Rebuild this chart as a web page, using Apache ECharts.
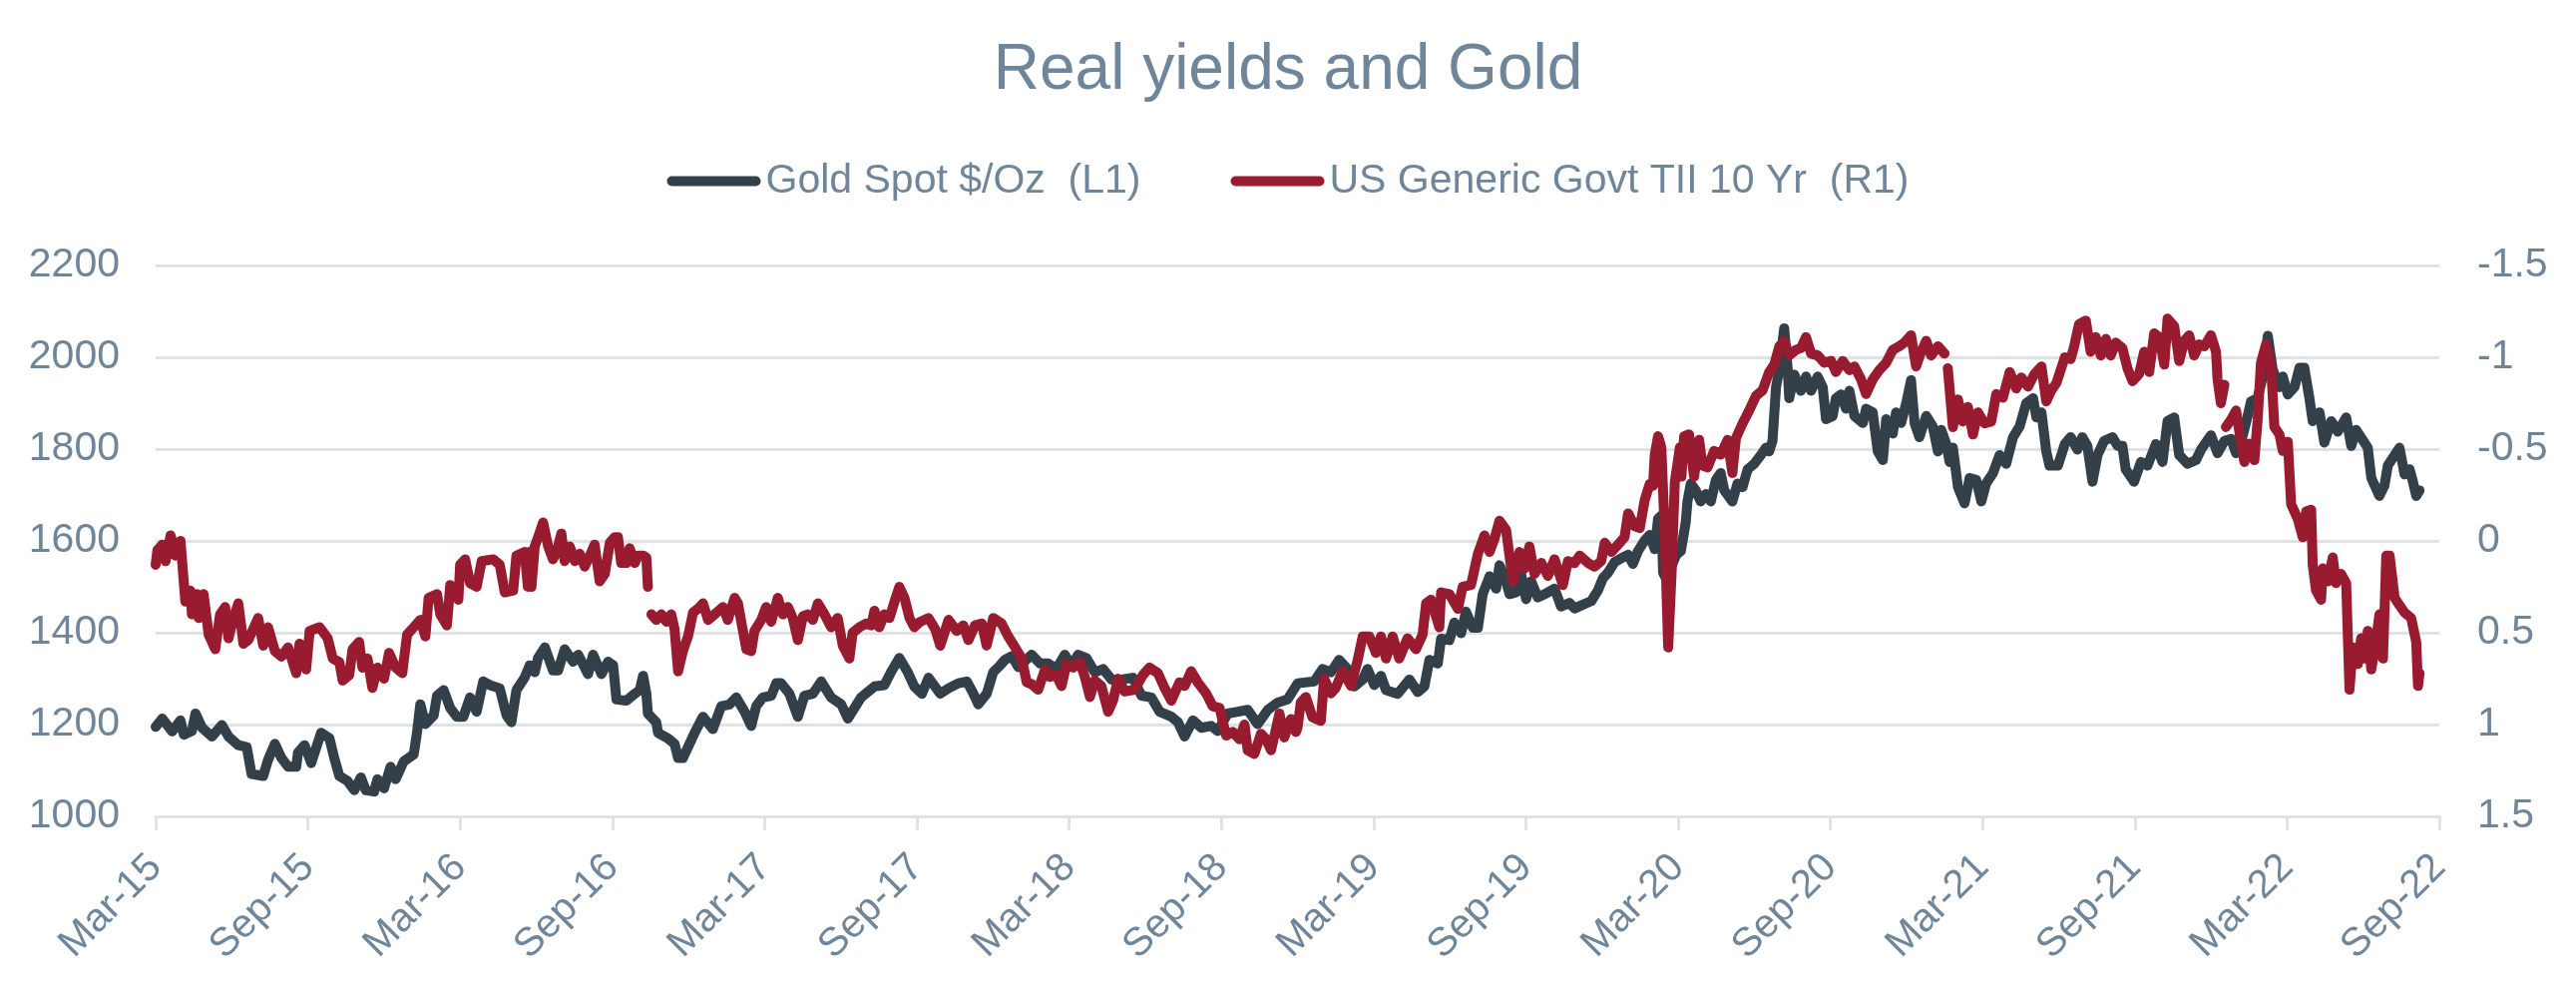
<!DOCTYPE html>
<html>
<head>
<meta charset="utf-8">
<title>Real yields and Gold</title>
<script src="https://cdn.jsdelivr.net/npm/echarts@6/dist/echarts.min.js"></script>
<style>
    html, body { margin: 0; padding: 0; background: #ffffff; }
    #chart { width: 2582px; height: 999px; }
</style>
</head>
<body>
<div id="chart"></div>
<script>
// x values are months counted from the Mar-15 tick
const tickLabels = ['Mar-15', 'Sep-15', 'Mar-16', 'Sep-16', 'Mar-17', 'Sep-17', 'Mar-18', 'Sep-18',
    'Mar-19', 'Sep-19', 'Mar-20', 'Sep-20', 'Mar-21', 'Sep-21', 'Mar-22', 'Sep-22'];

const seriesNames = ['Gold Spot $/Oz  (L1)', 'US Generic Govt TII 10 Yr  (R1)'];

// Gold spot, $/oz, left axis
const goldSpot = [
    [0.00, 1195], [0.26, 1213], [0.65, 1185], [0.98, 1209], [1.11, 1178], [1.43, 1186], [1.57, 1224],
    [1.83, 1193], [2.22, 1174], [2.61, 1199], [2.87, 1174], [3.26, 1155], [3.59, 1151], [3.78, 1092],
    [4.24, 1088], [4.43, 1123], [4.70, 1158], [4.96, 1127], [5.22, 1108], [5.54, 1108], [5.61, 1139],
    [5.87, 1155], [6.13, 1116], [6.52, 1182], [6.85, 1170], [7.04, 1127], [7.24, 1088], [7.56, 1077],
    [7.83, 1057], [8.09, 1085], [8.28, 1057], [8.61, 1054], [8.74, 1081], [9.00, 1061], [9.26, 1108],
    [9.46, 1081], [9.78, 1120], [10.17, 1135], [10.30, 1182], [10.43, 1244], [10.63, 1201], [10.96, 1220],
    [11.09, 1263], [11.35, 1275], [11.61, 1236], [11.87, 1217], [12.13, 1217], [12.39, 1259], [12.65, 1228],
    [12.91, 1294], [13.17, 1286], [13.56, 1279], [13.83, 1220], [14.02, 1205], [14.22, 1275], [14.54, 1302],
    [14.74, 1329], [14.94, 1314], [15.07, 1345], [15.34, 1368], [15.66, 1318], [15.86, 1318], [16.12, 1364],
    [16.45, 1337], [16.65, 1352], [17.04, 1310], [17.24, 1352], [17.57, 1310], [17.83, 1337], [18.03, 1329],
    [18.16, 1255], [18.55, 1252], [18.88, 1267], [19.08, 1275], [19.21, 1306], [19.34, 1267], [19.40, 1224],
    [19.73, 1205], [19.80, 1182], [20.19, 1170], [20.45, 1158], [20.59, 1127], [20.78, 1127], [20.98, 1151],
    [21.24, 1182], [21.57, 1217], [21.96, 1190], [22.29, 1240], [22.62, 1244], [22.88, 1259], [23.21, 1228],
    [23.47, 1197], [23.67, 1240], [23.93, 1259], [24.26, 1263], [24.46, 1290], [24.65, 1290], [24.98, 1267],
    [25.31, 1217], [25.57, 1263], [25.90, 1267], [26.23, 1294], [26.62, 1259], [27.02, 1244], [27.28, 1213],
    [27.80, 1259], [28.33, 1283], [28.72, 1286], [28.98, 1314], [29.31, 1345], [29.64, 1314], [29.90, 1283],
    [30.20, 1267], [30.46, 1302], [30.92, 1267], [31.25, 1279], [31.64, 1290], [31.97, 1294], [32.23, 1267],
    [32.42, 1244], [32.75, 1267], [33.01, 1314], [33.28, 1329], [33.47, 1341], [33.74, 1349], [34.00, 1325],
    [34.52, 1352], [34.85, 1333], [35.18, 1333], [35.50, 1321], [35.83, 1352], [36.09, 1329], [36.36, 1352],
    [36.68, 1345], [37.01, 1314], [37.34, 1321], [37.67, 1298], [38.06, 1298], [38.52, 1302], [38.85, 1263],
    [39.24, 1259], [39.57, 1228], [40.03, 1217], [40.29, 1205], [40.55, 1174], [40.88, 1209], [41.21, 1193],
    [41.60, 1197], [41.86, 1186], [42.25, 1224], [42.65, 1228], [43.04, 1232], [43.43, 1201], [43.83, 1232],
    [44.22, 1248], [44.61, 1255], [45.01, 1290], [45.66, 1294], [45.99, 1321], [46.32, 1314], [46.64, 1341],
    [46.97, 1321], [47.24, 1283], [47.57, 1298], [47.76, 1321], [48.03, 1286], [48.29, 1306], [48.49, 1275],
    [48.95, 1267], [49.41, 1298], [49.74, 1271], [50.00, 1283], [50.20, 1341], [50.53, 1333], [50.66, 1387],
    [50.99, 1384], [51.18, 1422], [51.45, 1399], [51.64, 1446], [51.91, 1411], [52.11, 1411], [52.30, 1484],
    [52.57, 1523], [52.83, 1496], [52.96, 1547], [53.16, 1523], [53.36, 1484], [53.62, 1488], [53.82, 1527],
    [54.01, 1473], [54.21, 1512], [54.47, 1477], [54.74, 1484], [55.13, 1496], [55.39, 1457], [55.72, 1465],
    [55.92, 1453], [56.25, 1461], [56.58, 1469], [56.84, 1492], [57.04, 1519], [57.24, 1531], [57.50, 1554],
    [57.76, 1562], [58.03, 1570], [58.22, 1550], [58.42, 1578], [58.68, 1601], [58.88, 1613], [59.08, 1582],
    [59.21, 1648], [59.34, 1655], [59.41, 1531], [59.54, 1516], [59.74, 1545], [59.93, 1570], [60.11, 1578],
    [60.30, 1640], [60.37, 1686], [60.50, 1725], [60.70, 1710], [60.89, 1686], [61.09, 1702], [61.29, 1686],
    [61.49, 1733], [61.68, 1748], [61.82, 1710], [62.14, 1686], [62.34, 1725], [62.54, 1717], [62.74, 1756],
    [63.00, 1768], [63.26, 1787], [63.46, 1803], [63.59, 1795], [63.72, 1818], [63.86, 1935], [63.99, 1974],
    [64.18, 2063], [64.32, 1974], [64.38, 1911], [64.58, 1962], [64.84, 1927], [65.04, 1958], [65.24, 1927],
    [65.50, 1958], [65.70, 1935], [65.83, 1865], [66.09, 1872], [66.22, 1911], [66.42, 1919], [66.62, 1888],
    [66.75, 1927], [66.95, 1872], [67.28, 1857], [67.41, 1888], [67.67, 1880], [67.87, 1795], [68.07, 1776],
    [68.20, 1865], [68.46, 1834], [68.59, 1880], [68.79, 1857], [68.99, 1900], [69.18, 1950], [69.32, 1857],
    [69.51, 1826], [69.78, 1872], [70.04, 1849], [70.24, 1795], [70.37, 1842], [70.57, 1811], [70.70, 1772],
    [70.83, 1803], [71.03, 1717], [71.29, 1682], [71.49, 1737], [71.75, 1733], [71.95, 1686], [72.14, 1725],
    [72.41, 1748], [72.67, 1787], [72.93, 1768], [73.20, 1826], [73.46, 1849], [73.72, 1900], [73.99, 1911],
    [74.12, 1869], [74.32, 1880], [74.51, 1795], [74.64, 1764], [74.97, 1764], [75.24, 1811], [75.47, 1826],
    [75.74, 1799], [75.93, 1826], [76.13, 1807], [76.33, 1729], [76.53, 1787], [76.79, 1818], [77.12, 1826],
    [77.32, 1807], [77.51, 1807], [77.64, 1756], [77.97, 1729], [78.24, 1772], [78.50, 1764], [78.83, 1811],
    [79.09, 1772], [79.29, 1861], [79.55, 1869], [79.75, 1787], [80.08, 1768], [80.41, 1776], [80.61, 1799],
    [81.00, 1830], [81.26, 1791], [81.53, 1818], [81.79, 1822], [81.99, 1791], [82.18, 1814], [82.38, 1857],
    [82.58, 1904], [82.84, 1911], [83.04, 1958], [83.24, 2047], [83.43, 1974], [83.70, 1935], [83.83, 1958],
    [84.03, 1919], [84.29, 1935], [84.49, 1977], [84.68, 1977], [84.88, 1911], [85.01, 1861], [85.28, 1880],
    [85.47, 1814], [85.74, 1861], [86.00, 1838], [86.33, 1869], [86.53, 1807], [86.72, 1842], [87.05, 1814],
    [87.18, 1803], [87.32, 1737], [87.64, 1698], [87.84, 1721], [87.97, 1764], [88.24, 1787], [88.43, 1803],
    [88.63, 1745], [88.83, 1756], [88.96, 1729], [89.09, 1698], [89.22, 1710]
];

// US 10y TIPS real yield, %, right axis (inverted). '-' = gap in the line
const tiiYield = [
    [0.00, 0.13], [0.07, 0.05], [0.26, 0.02], [0.39, 0.11], [0.59, -0.03], [0.78, 0.08], [0.98, 0.00],
    [1.17, 0.33], [1.37, 0.27], [1.43, 0.40], [1.63, 0.29], [1.70, 0.42], [1.89, 0.29], [2.09, 0.51],
    [2.35, 0.59], [2.54, 0.40], [2.74, 0.36], [2.87, 0.53], [3.07, 0.42], [3.26, 0.34], [3.46, 0.56],
    [3.65, 0.54], [4.04, 0.42], [4.24, 0.57], [4.43, 0.47], [4.70, 0.60], [4.96, 0.63], [5.22, 0.58],
    [5.54, 0.72], [5.67, 0.56], [5.93, 0.70], [6.07, 0.49], [6.46, 0.47], [6.78, 0.53], [6.98, 0.64],
    [7.24, 0.66], [7.37, 0.76], [7.63, 0.73], [7.76, 0.59], [8.02, 0.55], [8.15, 0.69], [8.35, 0.64],
    [8.54, 0.80], [8.74, 0.69], [9.00, 0.75], [9.20, 0.61], [9.46, 0.69], [9.72, 0.72], [9.91, 0.51],
    [10.17, 0.47], [10.43, 0.43], [10.63, 0.52], [10.76, 0.31], [11.09, 0.29], [11.22, 0.40], [11.48, 0.46],
    [11.61, 0.24], [11.93, 0.32], [12.00, 0.13], [12.20, 0.10], [12.39, 0.23], [12.65, 0.25], [12.85, 0.11],
    [13.30, 0.10], [13.56, 0.13], [13.76, 0.28], [14.09, 0.27], [14.22, 0.08], [14.54, 0.06], [14.67, 0.25],
    [14.74, 0.06], [14.81, 0.25], [14.94, 0.03], [15.07, -0.02], [15.27, -0.10], [15.47, 0.03], [15.66, 0.10],
    [15.80, 0.06], [15.99, -0.04], [16.12, 0.11], [16.32, 0.03], [16.52, 0.11], [16.71, 0.07], [16.91, 0.14],
    [17.11, 0.08], [17.30, 0.02], [17.50, 0.22], [17.70, 0.18], [17.90, 0.01], [18.09, -0.02], [18.22, -0.02],
    [18.35, 0.12], [18.55, 0.12], [18.68, 0.04], [18.88, 0.12], [19.01, 0.08], [19.21, 0.08], [19.34, 0.09],
    [19.40, 0.25], [19.47, '-'], [19.54, 0.40], [19.73, 0.43], [19.93, 0.40], [20.13, 0.44], [20.32, 0.40],
    [20.45, 0.48], [20.59, 0.71], [20.78, 0.60], [20.98, 0.52], [21.18, 0.39], [21.37, 0.37], [21.57, 0.34],
    [21.77, 0.43], [22.03, 0.40], [22.36, 0.36], [22.55, 0.43], [22.82, 0.31], [22.95, 0.34], [23.08, 0.44],
    [23.28, 0.59], [23.47, 0.60], [23.60, 0.49], [23.87, 0.43], [24.06, 0.36], [24.26, 0.44], [24.52, 0.31],
    [24.72, 0.40], [24.92, 0.36], [25.11, 0.42], [25.31, 0.54], [25.51, 0.41], [25.70, 0.40], [25.90, 0.43],
    [26.10, 0.34], [26.36, 0.40], [26.62, 0.47], [26.88, 0.42], [27.08, 0.57], [27.34, 0.64], [27.47, 0.50],
    [27.74, 0.47], [28.00, 0.45], [28.20, 0.46], [28.33, 0.38], [28.52, 0.47], [28.72, 0.40], [28.92, 0.42],
    [29.12, 0.33], [29.31, 0.25], [29.51, 0.31], [29.71, 0.42], [29.90, 0.47], [30.13, 0.44], [30.46, 0.42],
    [30.72, 0.48], [30.92, 0.57], [31.25, 0.43], [31.57, 0.49], [31.83, 0.46], [32.03, 0.54], [32.29, 0.46],
    [32.56, 0.45], [32.75, 0.57], [33.01, 0.42], [33.34, 0.45], [33.60, 0.52], [33.87, 0.58], [34.13, 0.64],
    [34.33, 0.77], [34.52, 0.78], [34.78, 0.81], [35.05, 0.70], [35.24, 0.74], [35.50, 0.73], [35.70, 0.79],
    [35.90, 0.67], [36.16, 0.69], [36.42, 0.66], [36.62, 0.74], [36.82, 0.85], [37.01, 0.76], [37.27, 0.79],
    [37.54, 0.93], [37.73, 0.87], [37.93, 0.75], [38.19, 0.82], [38.58, 0.81], [38.91, 0.73], [39.17, 0.69],
    [39.50, 0.72], [39.76, 0.80], [40.03, 0.87], [40.35, 0.77], [40.55, 0.79], [40.81, 0.71], [41.07, 0.77],
    [41.40, 0.83], [41.66, 0.90], [41.93, 0.91], [42.19, 1.06], [42.45, 1.04], [42.71, 1.08], [42.91, 1.00],
    [43.04, 1.14], [43.30, 1.16], [43.56, 1.05], [43.76, 1.08], [43.96, 1.14], [44.29, 0.94], [44.48, 1.07],
    [44.74, 0.97], [44.94, 1.04], [45.00, 1.02], [45.13, 0.88], [45.33, 0.85], [45.59, 0.96], [45.92, 0.98],
    [46.05, 0.75], [46.32, 0.83], [46.51, 0.80], [46.78, 0.71], [47.11, 0.79], [47.37, 0.65], [47.57, 0.52],
    [47.83, 0.52], [48.09, 0.61], [48.29, 0.52], [48.49, 0.64], [48.75, 0.52], [49.01, 0.64], [49.34, 0.53],
    [49.67, 0.59], [49.93, 0.51], [50.07, 0.34], [50.26, 0.32], [50.59, 0.47], [50.66, 0.28], [50.99, 0.29],
    [51.32, 0.37], [51.51, 0.25], [51.84, 0.24], [52.11, 0.07], [52.37, -0.03], [52.57, 0.06], [52.76, -0.01],
    [52.96, -0.11], [53.22, -0.06], [53.49, 0.22], [53.75, 0.06], [53.95, 0.15], [54.14, 0.03], [54.34, 0.18],
    [54.61, 0.12], [54.87, 0.19], [55.13, 0.10], [55.46, 0.24], [55.66, 0.11], [55.92, 0.12], [56.12, 0.08],
    [56.45, 0.12], [56.71, 0.14], [56.97, 0.11], [57.11, 0.01], [57.37, 0.06], [57.70, 0.01], [57.89, -0.02],
    [58.03, -0.15], [58.29, -0.08], [58.49, -0.07], [58.68, -0.22], [58.88, -0.31], [59.01, -0.30], [59.08, -0.47],
    [59.21, -0.57], [59.34, -0.51], [59.47, -0.06], [59.61, 0.58], [59.74, 0.19], [59.87, -0.32], [60.07, -0.51],
    [60.13, -0.35], [60.24, -0.57], [60.43, -0.58], [60.63, -0.35], [60.83, -0.55], [60.96, -0.41], [61.16, -0.40],
    [61.42, -0.49], [61.68, -0.47], [61.95, -0.55], [62.14, -0.37], [62.28, -0.56], [62.54, -0.64], [62.80, -0.71],
    [63.07, -0.79], [63.33, -0.82], [63.59, -0.92], [63.79, -0.96], [63.99, -1.06], [64.18, -1.09], [64.38, -1.01],
    [64.64, -1.04], [64.84, -1.05], [65.04, -1.11], [65.24, -1.02], [65.50, -1.01], [65.76, -0.97], [66.03, -0.98],
    [66.22, -0.92], [66.49, -0.98], [66.75, -0.93], [66.95, -0.95], [67.21, -0.88], [67.41, -0.80], [67.67, -0.88],
    [67.93, -0.93], [68.20, -0.97], [68.46, -1.04], [68.72, -1.06], [68.92, -1.08], [69.18, -1.12], [69.38, -0.95],
    [69.58, -1.03], [69.78, -1.09], [69.97, -1.01], [70.24, -1.06], [70.50, -1.02], [70.57, '-'], [70.63, -0.94],
    [70.83, -0.62], [71.03, -0.77], [71.22, -0.65], [71.42, -0.73], [71.62, -0.58], [71.82, -0.70], [72.08, -0.64],
    [72.34, -0.65], [72.54, -0.80], [72.80, -0.78], [73.07, -0.92], [73.33, -0.83], [73.53, -0.89], [73.79, -0.84],
    [74.05, -0.91], [74.32, -0.95], [74.51, -0.76], [74.71, -0.82], [74.91, -0.86], [75.24, -1.00], [75.47, -0.99],
    [75.61, -1.06], [75.80, -1.18], [76.07, -1.20], [76.26, -1.03], [76.46, -1.11], [76.66, -1.01], [76.86, -1.10],
    [77.05, -1.01], [77.25, -1.08], [77.51, -1.05], [77.71, -0.94], [77.91, -0.87], [78.17, -0.91], [78.37, -1.03],
    [78.57, -0.92], [78.76, -1.13], [78.96, -1.11], [79.16, -0.96], [79.29, -1.21], [79.55, -1.17], [79.75, -0.98],
    [79.95, -1.09], [80.14, -1.12], [80.34, -1.01], [80.54, -1.07], [80.74, -1.06], [81.00, -1.12], [81.20, -1.03],
    [81.26, -0.88], [81.39, -0.75], [81.53, -0.85], [81.56, '-'], [81.59, -0.62], [81.79, -0.66], [81.99, -0.71],
    [82.18, -0.54], [82.32, -0.43], [82.51, -0.53], [82.71, -0.44], [82.84, -0.66], [82.97, -0.97], [83.17, -1.07],
    [83.37, -0.95], [83.50, -0.62], [83.70, -0.58], [83.83, -0.49], [84.03, -0.54], [84.16, -0.20], [84.42, -0.12],
    [84.62, -0.02], [84.75, -0.16], [84.95, -0.17], [85.01, 0.13], [85.14, 0.27], [85.34, 0.32], [85.41, 0.15],
    [85.61, 0.22], [85.80, 0.09], [85.93, 0.23], [86.13, 0.18], [86.33, 0.23], [86.46, 0.81], [86.59, 0.58],
    [86.79, 0.67], [86.92, 0.53], [87.05, 0.64], [87.18, 0.49], [87.32, 0.70], [87.51, 0.54], [87.64, 0.40],
    [87.78, 0.64], [87.91, 0.08], [88.04, 0.08], [88.24, 0.31], [88.43, 0.35], [88.63, 0.39], [88.89, 0.42],
    [89.09, 0.55], [89.16, 0.79], [89.22, 0.72]
];

(function () {
    'use strict';

    const textColor = '#6f8599';
    const gridColor = '#dfe3e8';
    const goldColor = '#333f49';
    const tiiColor = '#981b30';
    const font = '"Liberation Sans", Arial, sans-serif';

    // legend icon: a thick line with round ends
    const lineIcon = 'path://M5,0 L89,0 A5,5 0 0 1 89,10 L5,10 A5,5 0 0 1 5,0 Z';

    const chart = echarts.init(document.getElementById('chart'), null, { renderer: 'canvas' });

    const option = {
        backgroundColor: '#ffffff',
        animation: false,
        textStyle: { fontFamily: font },
        title: {
            text: 'Real yields and Gold',
            left: 'center',
            top: 34,
            textStyle: {
                color: textColor,
                fontSize: 64,
                fontWeight: 'normal',
                fontFamily: font
            }
        },
        legend: {
            top: 156,
            left: 'center',
            itemWidth: 94,
            itemHeight: 10,
            itemGap: 90,
            textStyle: { color: textColor, fontSize: 41, fontFamily: font },
            data: [
                { name: seriesNames[0], icon: lineIcon },
                { name: seriesNames[1], icon: lineIcon }
            ]
        },
        grid: {
            left: 156,
            right: 137,
            top: 266,
            bottom: 181
        },
        xAxis: {
            type: 'value',
            min: 0,
            max: 90,
            interval: 6,
            splitLine: { show: false },
            axisLine: { onZero: false, lineStyle: { color: gridColor, width: 3 } },
            axisTick: { show: true, length: 14, lineStyle: { color: gridColor, width: 3 } },
            axisLabel: {
                rotate: 45,
                margin: 45,
                color: textColor,
                fontSize: 40,
                fontFamily: font,
                formatter: v => tickLabels[Math.round(v / 6)] || ''
            }
        },
        yAxis: [
            {
                type: 'value',
                min: 1000,
                max: 2200,
                interval: 200,
                axisLine: { show: false },
                axisTick: { show: false },
                splitLine: { lineStyle: { color: gridColor, width: 3 } },
                axisLabel: {
                    color: textColor, fontSize: 41, fontFamily: font, margin: 36,
                    formatter: v => String(v)
                }
            },
            {
                type: 'value',
                inverse: true,
                min: -1.5,
                max: 1.5,
                interval: 0.5,
                axisLine: { show: false },
                axisTick: { show: false },
                splitLine: { show: false },
                axisLabel: {
                    color: textColor, fontSize: 41, fontFamily: font, margin: 38,
                    formatter: v => String(v)
                }
            }
        ],
        series: [
            {
                name: seriesNames[0],
                type: 'line',
                yAxisIndex: 0,
                data: goldSpot,
                showSymbol: false,
                connectNulls: false,
                color: goldColor,
                lineStyle: { color: goldColor, width: 10, cap: 'round', join: 'round' }
            },
            {
                name: seriesNames[1],
                type: 'line',
                yAxisIndex: 1,
                data: tiiYield,
                showSymbol: false,
                connectNulls: false,
                color: tiiColor,
                lineStyle: { color: tiiColor, width: 10, cap: 'round', join: 'round' }
            }
        ]
    };

    chart.setOption(option);
})();
</script>
</body>
</html>
